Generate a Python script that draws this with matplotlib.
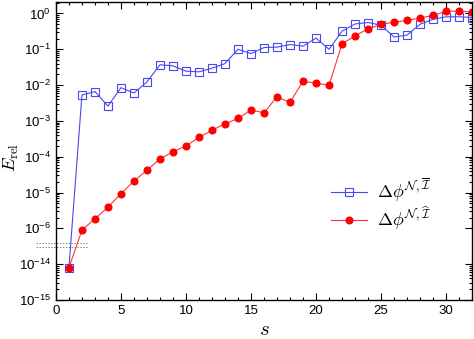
import numpy as np
import matplotlib
matplotlib.use('Agg')
import matplotlib.pyplot as plt
from matplotlib.ticker import FixedLocator, NullFormatter

plt.rcParams['font.family'] = ['Liberation Sans', 'DejaVu Sans']
plt.rcParams['mathtext.fontset'] = 'custom'
plt.rcParams['mathtext.rm'] = 'Liberation Sans'
plt.rcParams['mathtext.it'] = 'Liberation Sans:italic'

s = list(range(1, 33))
e_bar = [8e-15, 5.3e-3, 6.6e-3, 2.6e-3, 8.5e-3, 6.0e-3, 1.23e-2, 3.7e-2, 3.45e-2, 2.45e-2,
         2.35e-2, 2.97e-2, 4.0e-2, 0.10, 0.076, 0.112, 0.115, 0.136, 0.123, 0.205,
         0.10, 0.32, 0.51, 0.56, 0.47, 0.22, 0.25, 0.50, 0.69, 0.81, 0.81, 0.77]
e_hat = [8e-15, 8.9e-7, 1.86e-6, 3.9e-6, 9.3e-6, 2.1e-5, 4.2e-5, 8.7e-5, 1.38e-4, 2.0e-4,
         3.46e-4, 5.5e-4, 8.3e-4, 1.17e-3, 2.0e-3, 1.7e-3, 4.7e-3, 3.3e-3, 1.29e-2, 1.13e-2,
         1.0e-2, 0.142, 0.24, 0.37, 0.50, 0.57, 0.64, 0.75, 0.88, 1.16, 1.16, 1.1]
ytick_vals = [1e-15, 1e-14, 1e-6, 1e-5, 1e-4, 1e-3, 1e-2, 1e-1, 1e0]
ytick_labels = [r'$10^{-15}$', r'$10^{-14}$', r'$10^{-6}$', r'$10^{-5}$', r'$10^{-4}$',
                r'$10^{-3}$', r'$10^{-2}$', r'$10^{-1}$', r'$10^{0}$']

# broken log axis: the gap between 1e-14 and 1e-6 is squeezed
B1, B2 = -6.45, -13.55
G = 0.1


def fwd(v):
    d = np.log10(np.clip(np.asarray(v, float), 1e-300, None))
    mid = B1 + (d - B1) * G / (B1 - B2)
    return np.where(d >= B1, d, np.where(d <= B2, d + (B1 - B2) - G, mid))


def inv(y):
    y = np.asarray(y, float)
    lo = B1 - G
    d = np.where(y >= B1, y, np.where(y <= lo, y - (B1 - B2) + G,
                                      B1 + (y - B1) * (B1 - B2) / G))
    return 10.0 ** d


fig = plt.figure(figsize=(4.74, 3.39), dpi=100)
ax = fig.add_axes([0.118, 0.115, 0.878, 0.879])
ax.set_yscale('function', functions=(fwd, inv))

ax.plot(s, e_bar, '-', color='#4848f0', lw=0.8, marker='s', ms=5.5, mfc='none', mec='#4848f0', mew=0.8,
        label=r'$\Delta\phi^{\mathcal{N},\overline{\mathcal{I}}}$')
ax.plot(s, e_hat, '-', color='#ff3333', lw=0.8, marker='o', ms=4.8, mfc='#ff0000', mec='#ff0000',
        label=r'$\Delta\phi^{\mathcal{N},\widehat{\mathcal{I}}}$')

ax.set_xlim(0, 32)
ax.set_ylim(1e-15, 10 ** 0.32)
ax.set_xticks(range(0, 31, 5))
ax.xaxis.set_minor_locator(FixedLocator(range(0, 33)))
ax.set_yticks(ytick_vals)
ax.set_yticklabels(ytick_labels)
minor = [k * 10.0 ** d for d in [-15] + list(range(-6, 1)) for k in range(2, 10)]
minor = [m for m in minor if m <= 10 ** 0.32]
ax.yaxis.set_minor_locator(FixedLocator(minor))
ax.yaxis.set_minor_formatter(NullFormatter())
ax.tick_params(which='both', direction='in', top=True, right=True, labelsize=9.5, width=0.8)
ax.tick_params(which='major', length=5)
ax.tick_params(which='minor', length=2.5)
for sp in ax.spines.values():
    sp.set_linewidth(1.0)

# break marks
for yb in (0.192, 0.178):
    ax.plot([-0.048, 0.075], [yb, yb], transform=ax.transAxes, clip_on=False,
            ls=(0, (1.5, 1.5)), color='#888888', lw=0.7)

xl = ax.set_xlabel(r'$s$', fontsize=15, labelpad=2)
xl.set_math_fontfamily('cm')
yl = ax.set_ylabel(r'$E_{\rm rel}$', fontsize=13)
yl.set_math_fontfamily('cm')
ax.yaxis.set_label_coords(-0.085, 0.48)

leg = ax.legend(loc='center left', bbox_to_anchor=(0.64, 0.32), frameon=False, fontsize=13,
                handlelength=1.95, handletextpad=0.6, borderpad=0, labelspacing=0.0)
for t in leg.get_texts():
    t.set_math_fontfamily('cm')

fig.savefig('out.png', dpi=100)
